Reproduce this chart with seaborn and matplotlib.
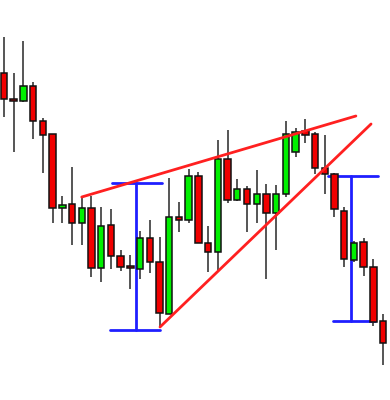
import matplotlib
matplotlib.use("Agg")
import matplotlib.pyplot as plt
import seaborn as sns
import numpy as np
import pandas as pd

# Candle data (arbitrary price units)
opens  = [327, 301, 299, 314, 279, 266, 192, 196, 177, 192, 132, 175, 144, 134, 131, 162, 138, 86, 183, 180,
          224, 157, 148, 241, 200, 211, 196, 206, 187, 206, 248, 269, 266, 232, 226, 189, 140, 158, 133, 79]
highs  = [363, 327, 359, 318, 282, 266, 204, 233, 203, 204, 193, 191, 150, 145, 169, 180, 163, 222, 198, 231,
          228, 174, 260, 270, 221, 214, 230, 216, 215, 279, 272, 281, 268, 265, 227, 193, 159, 162, 141, 86]
lows   = [283, 248, 298, 261, 227, 177, 177, 155, 155, 123, 118, 131, 129, 111, 121, 127, 73, 86, 168, 177,
          157, 128, 130, 197, 199, 168, 177, 121, 150, 203, 243, 257, 226, 206, 183, 133, 138, 124, 74, 35]
closes = [301, 299, 314, 279, 265, 192, 195, 177, 192, 132, 174, 144, 133, 132, 162, 138, 87, 183, 180, 224,
          157, 148, 241, 200, 211, 196, 206, 187, 206, 266, 268, 265, 232, 226, 191, 141, 157, 133, 78, 57]

# Wedge trend lines (x in candle index, y in price)
upper_x = [8.0, 36.2]
upper_y = [203, 284]
lower_x = [16.05, 37.76]
lower_y = [73, 276]

# Measurement brackets
left_top_x, left_top_y = [11.1, 16.25], 217
left_bot_x, left_bot_y = [10.9, 16.05], 70
left_vx = 13.58
right_top_x, right_top_y = [33.33, 38.48], 224
right_bot_x, right_bot_y = [33.85, 38.17], 79
right_vx = 35.7

df = pd.DataFrame({"open": opens, "high": highs, "low": lows, "close": closes})
df["idx"] = np.arange(len(df))
df["bull"] = df["close"] >= df["open"]

sns.set_theme(style="white")
fig = plt.figure(figsize=(3.9, 4.0), dpi=100)
ax = fig.add_axes([0, 0, 1, 1])
ax.set_axis_off()

blue = "#1f1fff"
# brackets (under candles)
ax.plot(left_top_x, [left_top_y] * 2, color=blue, lw=2, zorder=1)
ax.plot(left_bot_x, [left_bot_y] * 2, color=blue, lw=2, zorder=1)
ax.plot([left_vx] * 2, [left_bot_y, left_top_y], color=blue, lw=2, zorder=1)
ax.plot(right_top_x, [right_top_y] * 2, color=blue, lw=2, zorder=1)
ax.plot(right_bot_x, [right_bot_y] * 2, color=blue, lw=2, zorder=1)
ax.plot([right_vx] * 2, [right_bot_y, right_top_y], color=blue, lw=2, zorder=1)

# wicks
ax.vlines(df["idx"], df["low"], df["high"], color="#555555", lw=1.4, zorder=2)
# bodies
colors = np.where(df["bull"], "#00f000", "#f00000")
bottoms = np.minimum(df["open"], df["close"])
heights = np.maximum(np.abs(df["close"] - df["open"]), 2)
ax.bar(df["idx"], heights, bottom=bottoms, width=0.66, color=colors,
       edgecolor="#111111", linewidth=1.1, zorder=3)

# trend lines
red = "#ff2020"
sns.lineplot(x=upper_x, y=upper_y, ax=ax, color=red, lw=2, zorder=4)
sns.lineplot(x=lower_x, y=lower_y, ax=ax, color=red, lw=2, zorder=4)

ax.set_xlim(-0.41, 39.71)
ax.set_ylim(0, 400)
fig.savefig("out.png", dpi=100, facecolor="white")
